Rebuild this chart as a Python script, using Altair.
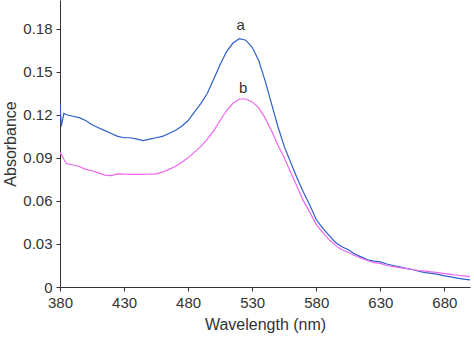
import altair as alt
import pandas as pd

wl_a = [380, 381, 383, 385, 390, 395, 400, 405, 410, 415, 420, 425, 430, 435, 440, 445, 450, 455, 460, 465,
        470, 475, 480, 485, 490, 495, 500, 505, 510, 515, 520, 525, 530, 535, 540, 545, 550, 555, 560, 565,
        570, 575, 580, 585, 590, 595, 600, 605, 610, 615, 620, 625, 630, 635, 640, 645, 650, 655, 660, 665,
        670, 675, 680, 685, 690, 695, 700]
abs_a = [0.128, 0.112, 0.121, 0.120, 0.119, 0.118, 0.116, 0.113, 0.111, 0.109, 0.107, 0.105, 0.104, 0.104,
         0.103, 0.102, 0.103, 0.104, 0.105, 0.107, 0.109, 0.112, 0.116, 0.122, 0.128, 0.135, 0.145, 0.155,
         0.164, 0.170, 0.173, 0.172, 0.167, 0.158, 0.144, 0.128, 0.112, 0.098, 0.087, 0.076, 0.066, 0.057,
         0.047, 0.041, 0.036, 0.031, 0.028, 0.026, 0.023, 0.021, 0.019, 0.018, 0.0175, 0.016, 0.015, 0.014,
         0.013, 0.0122, 0.011, 0.010, 0.0095, 0.0088, 0.0078, 0.007, 0.0062, 0.0055, 0.0049]

wl_b = [380, 383, 385, 390, 395, 400, 405, 410, 415, 420, 425, 430, 435, 440, 445, 450, 455, 460, 465,
        470, 475, 480, 485, 490, 495, 500, 505, 510, 515, 520, 525, 530, 535, 540, 545, 550, 555, 560, 565,
        570, 575, 580, 585, 590, 595, 600, 605, 610, 615, 620, 625, 630, 635, 640, 645, 650, 655, 660, 665,
        670, 675, 680, 685, 690, 695, 700]
abs_b = [0.094, 0.089, 0.086, 0.085, 0.084, 0.082, 0.081, 0.0795, 0.078, 0.0776, 0.0788, 0.0786, 0.0785,
         0.0785, 0.0785, 0.0786, 0.0788, 0.080, 0.082, 0.084, 0.087, 0.090, 0.094, 0.098, 0.103, 0.109,
         0.116, 0.123, 0.128, 0.131, 0.131, 0.129, 0.125, 0.118, 0.109, 0.099, 0.090, 0.080, 0.070, 0.060,
         0.052, 0.0435, 0.038, 0.033, 0.029, 0.026, 0.024, 0.022, 0.020, 0.0185, 0.017, 0.0165, 0.015,
         0.0142, 0.0135, 0.013, 0.0122, 0.0115, 0.011, 0.0105, 0.010, 0.0093, 0.0088, 0.0082, 0.0077, 0.0072]

label_text = ["a", "b"]
label_wl = [521, 523]
label_abs = [0.1825, 0.1387]

x_ticks = [380, 430, 480, 530, 580, 630, 680]
y_ticks = [0, 0.03, 0.06, 0.09, 0.12, 0.15, 0.18]

df = pd.concat([
    pd.DataFrame({"wl": wl_a, "abs": abs_a, "s": "a"}),
    pd.DataFrame({"wl": wl_b, "abs": abs_b, "s": "b"}),
])
lab = pd.DataFrame({"t": label_text, "wl": label_wl, "abs": label_abs})

FONT = "Liberation Sans"

x = alt.X("wl:Q", scale=alt.Scale(domain=[380, 700], nice=False),
          axis=alt.Axis(title="Wavelength (nm)", values=x_ticks, grid=False, labelFlush=False))
y = alt.Y("abs:Q", scale=alt.Scale(domain=[0, 0.2], nice=False),
          axis=alt.Axis(title="Absorbance", values=y_ticks, grid=False,
                        labelExpr="datum.value == 0 ? '0' : format(datum.value, '.2f')"))

lines = alt.Chart(df).mark_line(strokeWidth=1.2, clip=True).encode(
    x=x, y=y,
    color=alt.Color("s:N", scale=alt.Scale(domain=["a", "b"], range=["#2f5fcc", "#ee66ee"]), legend=None),
)

texts = alt.Chart(lab).mark_text(fontSize=15, font=FONT, color="#333333").encode(
    x="wl:Q", y="abs:Q", text="t:N"
)

chart = (lines + texts).properties(
    width=410, height=287,
    autosize=alt.AutoSizeParams(type="none"),
    padding={"left": 60, "top": 0, "right": 4, "bottom": 52},
).configure_view(stroke=None).configure_axis(
    domainColor="#333333", tickColor="#333333", tickSize=4, labelColor="#333333",
    labelFont=FONT, labelFontSize=15, titleFont=FONT, titleFontSize=16, titleColor="#333333",
    titleFontWeight="normal", labelPadding=4,
).configure_axisY(titlePadding=4).configure_axisX(titlePadding=6)

chart.save("out.html", embed_options={"renderer": "svg", "actions": False})
